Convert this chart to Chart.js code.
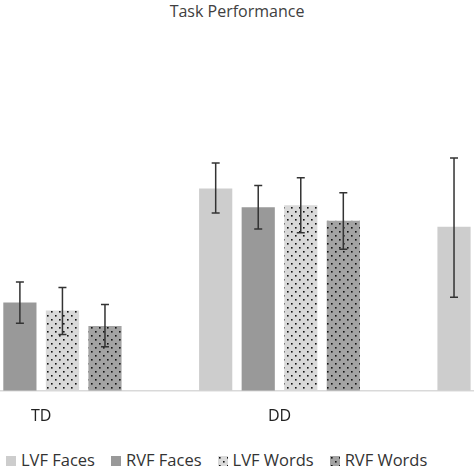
<!DOCTYPE html>
<html>
<head>
<meta charset="utf-8">
<script src="https://cdn.jsdelivr.net/npm/chart.js@4.4.0/dist/chart.umd.min.js"></script>
<style>
body { margin: 0; width: 474px; height: 474px; overflow: hidden; position: relative; background: #fff; font-family: "Open Sans", sans-serif; }
#wrap { position: absolute; left: -78px; top: 54px; width: 715px; height: 380px; }
#title { position: absolute; top: 0; width: 474px; text-align: center; font-size: 16px; color: #404040; }
#legend { position: absolute; top: 448px; left: 6px; font-size: 16.5px; color: #333; white-space: nowrap; }
#legend span { margin-right: 16px; }
#legend i { display: inline-block; width: 10px; height: 10px; margin-right: 5px; vertical-align: 0px; }
</style>
</head>
<body>
<div id="title">Task Performance</div>
<div id="wrap"><canvas id="chart"></canvas></div>
<div id="legend"></div>
<script>
const groups = ["TD", "DD", ""];
const seriesNames = ["LVF Faces", "RVF Faces", "LVF Words", "RVF Words"];
const lvfFaces = [null, 61.9, 50.2];
const rvfFaces = [27, 56.2, null];
const lvfWords = [24.6, 56.8, null];
const rvfWords = [19.8, 52, null];
const errLow = [[null, 54.4, 28.6], [20.7, 49.5, null], [17.2, 48.4, null], [13.5, 43.3, null]];
const errHigh = [[null, 69.7, 71.2], [33.3, 62.8, null], [31.6, 65.2, null], [26.4, 60.6, null]];

function dots(bg) {
    const c = document.createElement("canvas");
    c.width = 8; c.height = 8;
    const g = c.getContext("2d");
    g.fillStyle = bg; g.fillRect(0, 0, 8, 8);
    g.fillStyle = "#111";
    g.fillRect(1, 1, 1.6, 1.6);
    g.fillRect(5, 5, 1.6, 1.6);
    return c;
}

const lvfTile = dots("#d9d9d9");
const rvfTile = dots("#a3a3a3");
const ctx0 = document.createElement("canvas").getContext("2d");
const fills = ["#cdcdcd", "#999999", ctx0.createPattern(lvfTile, "repeat"), ctx0.createPattern(rvfTile, "repeat")];
const swatches = ["#cdcdcd", "#999999", "url(" + lvfTile.toDataURL() + ")", "url(" + rvfTile.toDataURL() + ")"];

const errorBars = {
    id: "errorBars",
    afterDatasetsDraw(chart) {
        const ctx = chart.ctx;
        const y = chart.scales.y;
        ctx.save();
        ctx.strokeStyle = "#333";
        ctx.lineWidth = 1.5;
        chart.data.datasets.forEach((ds, i) => {
            chart.getDatasetMeta(i).data.forEach((bar, j) => {
                if (errLow[i][j] == null) return;
                const yl = y.getPixelForValue(errLow[i][j]);
                const yh = y.getPixelForValue(errHigh[i][j]);
                ctx.beginPath();
                ctx.moveTo(bar.x, yl); ctx.lineTo(bar.x, yh);
                ctx.moveTo(bar.x - 4, yl); ctx.lineTo(bar.x + 4, yl);
                ctx.moveTo(bar.x - 4, yh); ctx.lineTo(bar.x + 4, yh);
                ctx.stroke();
            });
        });
        ctx.restore();
    }
};

new Chart(document.getElementById("chart"), {
    type: "bar",
    data: {
        labels: groups,
        datasets: [lvfFaces, rvfFaces, lvfWords, rvfWords].map((d, i) => ({
            label: seriesNames[i],
            data: d,
            backgroundColor: fills[i],
            categoryPercentage: 0.714,
            barPercentage: 0.78
        }))
    },
    options: {
        responsive: true,
        maintainAspectRatio: false,
        animation: false,
        layout: { padding: { top: 10, left: 0, right: 0, bottom: 0 } },
        plugins: { legend: { display: false }, tooltip: { enabled: false } },
        scales: {
            x: {
                grid: { display: false },
                border: { color: "#d9d9d9", width: 1.5 },
                ticks: { color: "#222", font: { family: "Open Sans", size: 16 }, padding: 8 }
            },
            y: { display: false, min: 0, max: 100 }
        }
    },
    plugins: [errorBars]
});

document.getElementById("legend").innerHTML = seriesNames.map((n, i) =>
    '<span><i style="background:' + swatches[i] + '"></i>' + n + '</span>').join("");
</script>
</body>
</html>
